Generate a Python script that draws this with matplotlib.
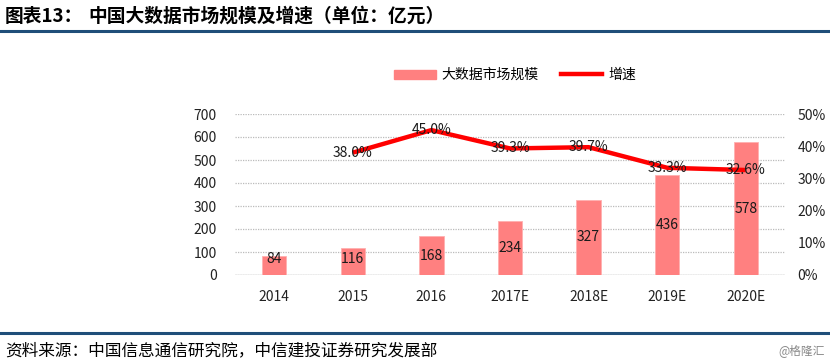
import matplotlib.pyplot as plt
import matplotlib.lines as mlines
import matplotlib.patches as mpatches
from matplotlib.ticker import FuncFormatter

plt.rcParams['font.family'] = ['Noto Sans CJK SC', 'DejaVu Sans']

# 数据
years = ["2014", "2015", "2016", "2017E", "2018E", "2019E", "2020E"]
market_size = [84, 116, 168, 234, 327, 436, 578]
growth = [None, 38.0, 45.0, 39.3, 39.7, 33.3, 32.6]

bar_color = "#FF8080"
line_color = "#FF0000"
blue = "#1F4E79"

fig = plt.figure(figsize=(8.3, 3.64), dpi=100)
ax = fig.add_axes([235 / 830, 1 - 275 / 364, 550 / 830, 161 / 364])
ax2 = ax.twinx()

x = list(range(len(years)))
ax.bar(x, market_size, width=0.31, color=bar_color, edgecolor="#FFB0B0", linewidth=0.6, zorder=2)
for xi, v in zip(x, market_size):
    ax.text(xi, max(v / 2, 70), str(v), ha="center", va="center", fontsize=10, color="#1a1a1a", zorder=5)

gx = [xi for xi, g in zip(x, growth) if g is not None]
gy = [g for g in growth if g is not None]
ax2.plot(gx, gy, color=line_color, linewidth=3.2, solid_capstyle="butt", zorder=3)
for xi, g in zip(gx, gy):
    ax2.text(xi, g, f"{g:.1f}%", ha="center", va="center", fontsize=10, color="#1a1a1a", zorder=6)

ax.set_xlim(-0.5, len(years) - 0.5)
ax.set_ylim(0, 700)
ax.set_yticks(range(0, 701, 100))
ax2.set_ylim(0, 50)
ax2.set_yticks(range(0, 51, 10))
ax2.yaxis.set_major_formatter(FuncFormatter(lambda v, p: f"{int(v)}%"))

ax.set_xticks(x)
ax.set_xticklabels(years)
ax.grid(axis="y", color="#BBBBBB", linestyle=(0, (1, 1)), linewidth=0.9, zorder=0)
ax.set_axisbelow(True)

for a in (ax, ax2):
    for s in ("top", "left", "right", "bottom"):
        a.spines[s].set_visible(False)
    a.tick_params(length=0, labelsize=10, colors="#222222")
ax.axhline(0, color="#BFBFBF", linewidth=1, zorder=1)
ax.tick_params(axis="y", pad=13)
ax.tick_params(axis="x", pad=11)
ax2.tick_params(axis="y", pad=9)
ax2.set_zorder(ax.get_zorder() + 1)
ax2.patch.set_visible(False)

# 图例
h1 = mpatches.Patch(color=bar_color)
h2 = mlines.Line2D([], [], color=line_color, linewidth=3.2)
fig.legend([h1, h2], ["大数据市场规模", "增速"], loc="center", bbox_to_anchor=(515 / 830, 1 - 75 / 364),
           ncol=2, frameon=False, fontsize=10, handlelength=3.0, handleheight=0.6, columnspacing=1.6,
           handletextpad=0.4)

# 标题与来源
fig.text(5 / 830, 1 - 16 / 364, "图表13：", fontsize=13.5, fontweight="bold", va="center", ha="left")
fig.text(88 / 830, 1 - 16 / 364, "中国大数据市场规模及增速（单位：亿元）", fontsize=13.5, fontweight="bold",
         va="center", ha="left")
fig.add_artist(mlines.Line2D([0, 1], [1 - 31 / 364] * 2, color=blue, linewidth=2.2))
fig.add_artist(mlines.Line2D([0, 1], [1 - 333 / 364] * 2, color=blue, linewidth=2.2))
fig.text(5 / 830, 1 - 351 / 364, "资料来源：中国信息通信研究院，中信建投证券研究发展部", fontsize=12,
         style="italic", va="center", ha="left")
fig.text(825 / 830, 1 - 351 / 364, "@格隆汇", fontsize=8.5, color="#888888", va="center", ha="right")

fig.savefig("out.png", dpi=100)
